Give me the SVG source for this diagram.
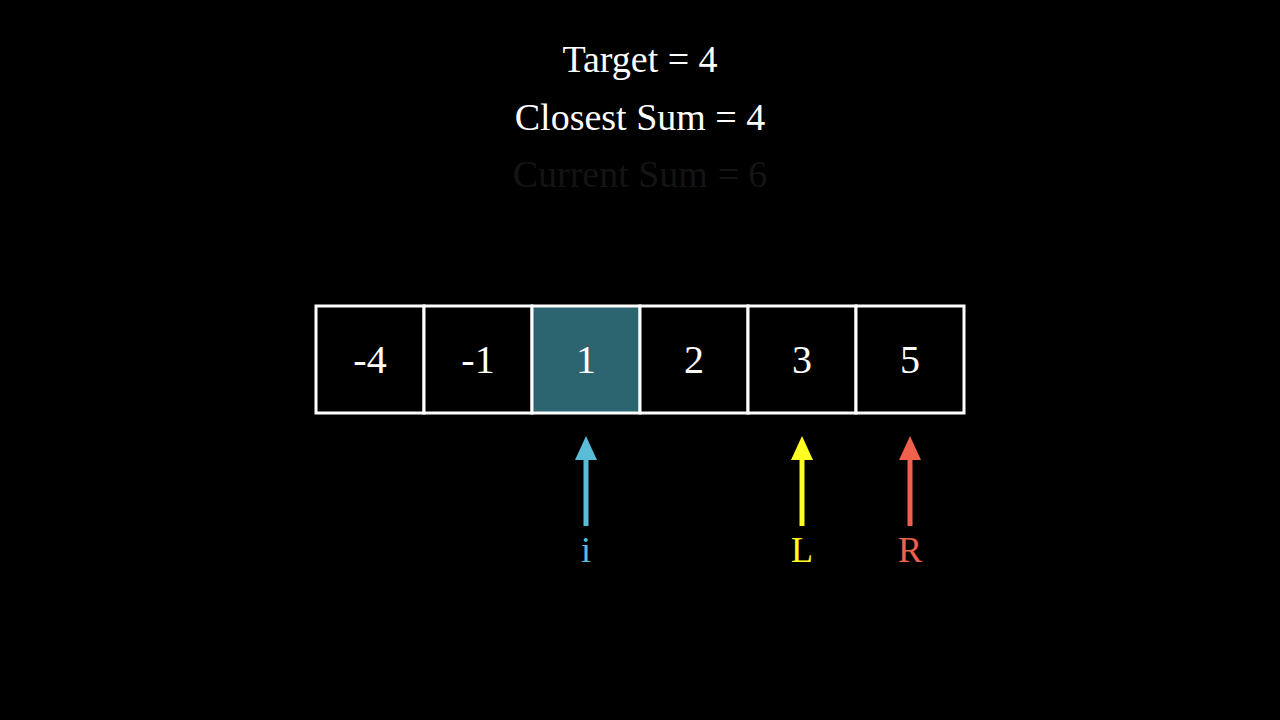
<svg xmlns="http://www.w3.org/2000/svg" width="1280" height="720" viewBox="0 0 1280 720">
<style>
text{font-family:"Liberation Serif","DejaVu Serif",serif;text-anchor:middle}
.t{fill:#fff;font-size:38px}
.c{fill:#000;stroke:#fff;stroke-width:3}
.n{fill:#fff;font-size:40px}
.l{font-size:36px}
</style>
<defs>
<marker id="ai" viewBox="0 0 10 10" refX="5" refY="9" markerWidth="10" markerHeight="10" orient="auto-start-reverse"/>
</defs>
<rect width="1280" height="720" fill="#000"/>
<text class="t" x="640" y="72">Target = 4</text>
<text class="t" x="640" y="130">Closest Sum = 4</text>
<text x="640" y="187" style="font-size:38px;fill:#141414">Current Sum = 6</text>
<g id="cell0"><rect class="c" x="316" y="306" width="108" height="107"/><text class="n" x="370" y="373">-4</text></g>
<g id="cell1"><rect class="c" x="424" y="306" width="108" height="107"/><text class="n" x="478" y="373">-1</text></g>
<g id="cell2"><rect class="c" x="532" y="306" width="108" height="107" style="fill:#2c6470"/><text class="n" x="586" y="373">1</text></g>
<g id="cell3"><rect class="c" x="640" y="306" width="108" height="107"/><text class="n" x="694" y="373">2</text></g>
<g id="cell4"><rect class="c" x="748" y="306" width="108" height="107"/><text class="n" x="802" y="373">3</text></g>
<g id="cell5"><rect class="c" x="856" y="306" width="108" height="107"/><text class="n" x="910" y="373">5</text></g>
<g id="connectors">
<line x1="586" y1="526" x2="586" y2="456" stroke="#5bbcd8" stroke-width="5"/>
<polygon points="586,436 575,460 597,460" fill="#5bbcd8"/>
<line x1="802" y1="526" x2="802" y2="456" stroke="#ffff22" stroke-width="5"/>
<polygon points="802,436 791,460 813,460" fill="#ffff22"/>
<line x1="910" y1="526" x2="910" y2="456" stroke="#f0604c" stroke-width="5"/>
<polygon points="910,436 899,460 921,460" fill="#f0604c"/>
</g>
<g id="label-i"><text class="l" x="586" y="562" fill="#5bbcd8">i</text></g>
<g id="label-L"><text class="l" x="802" y="562" fill="#ffff22">L</text></g>
<g id="label-R"><text class="l" x="910" y="562" fill="#f0604c">R</text></g>
</svg>
